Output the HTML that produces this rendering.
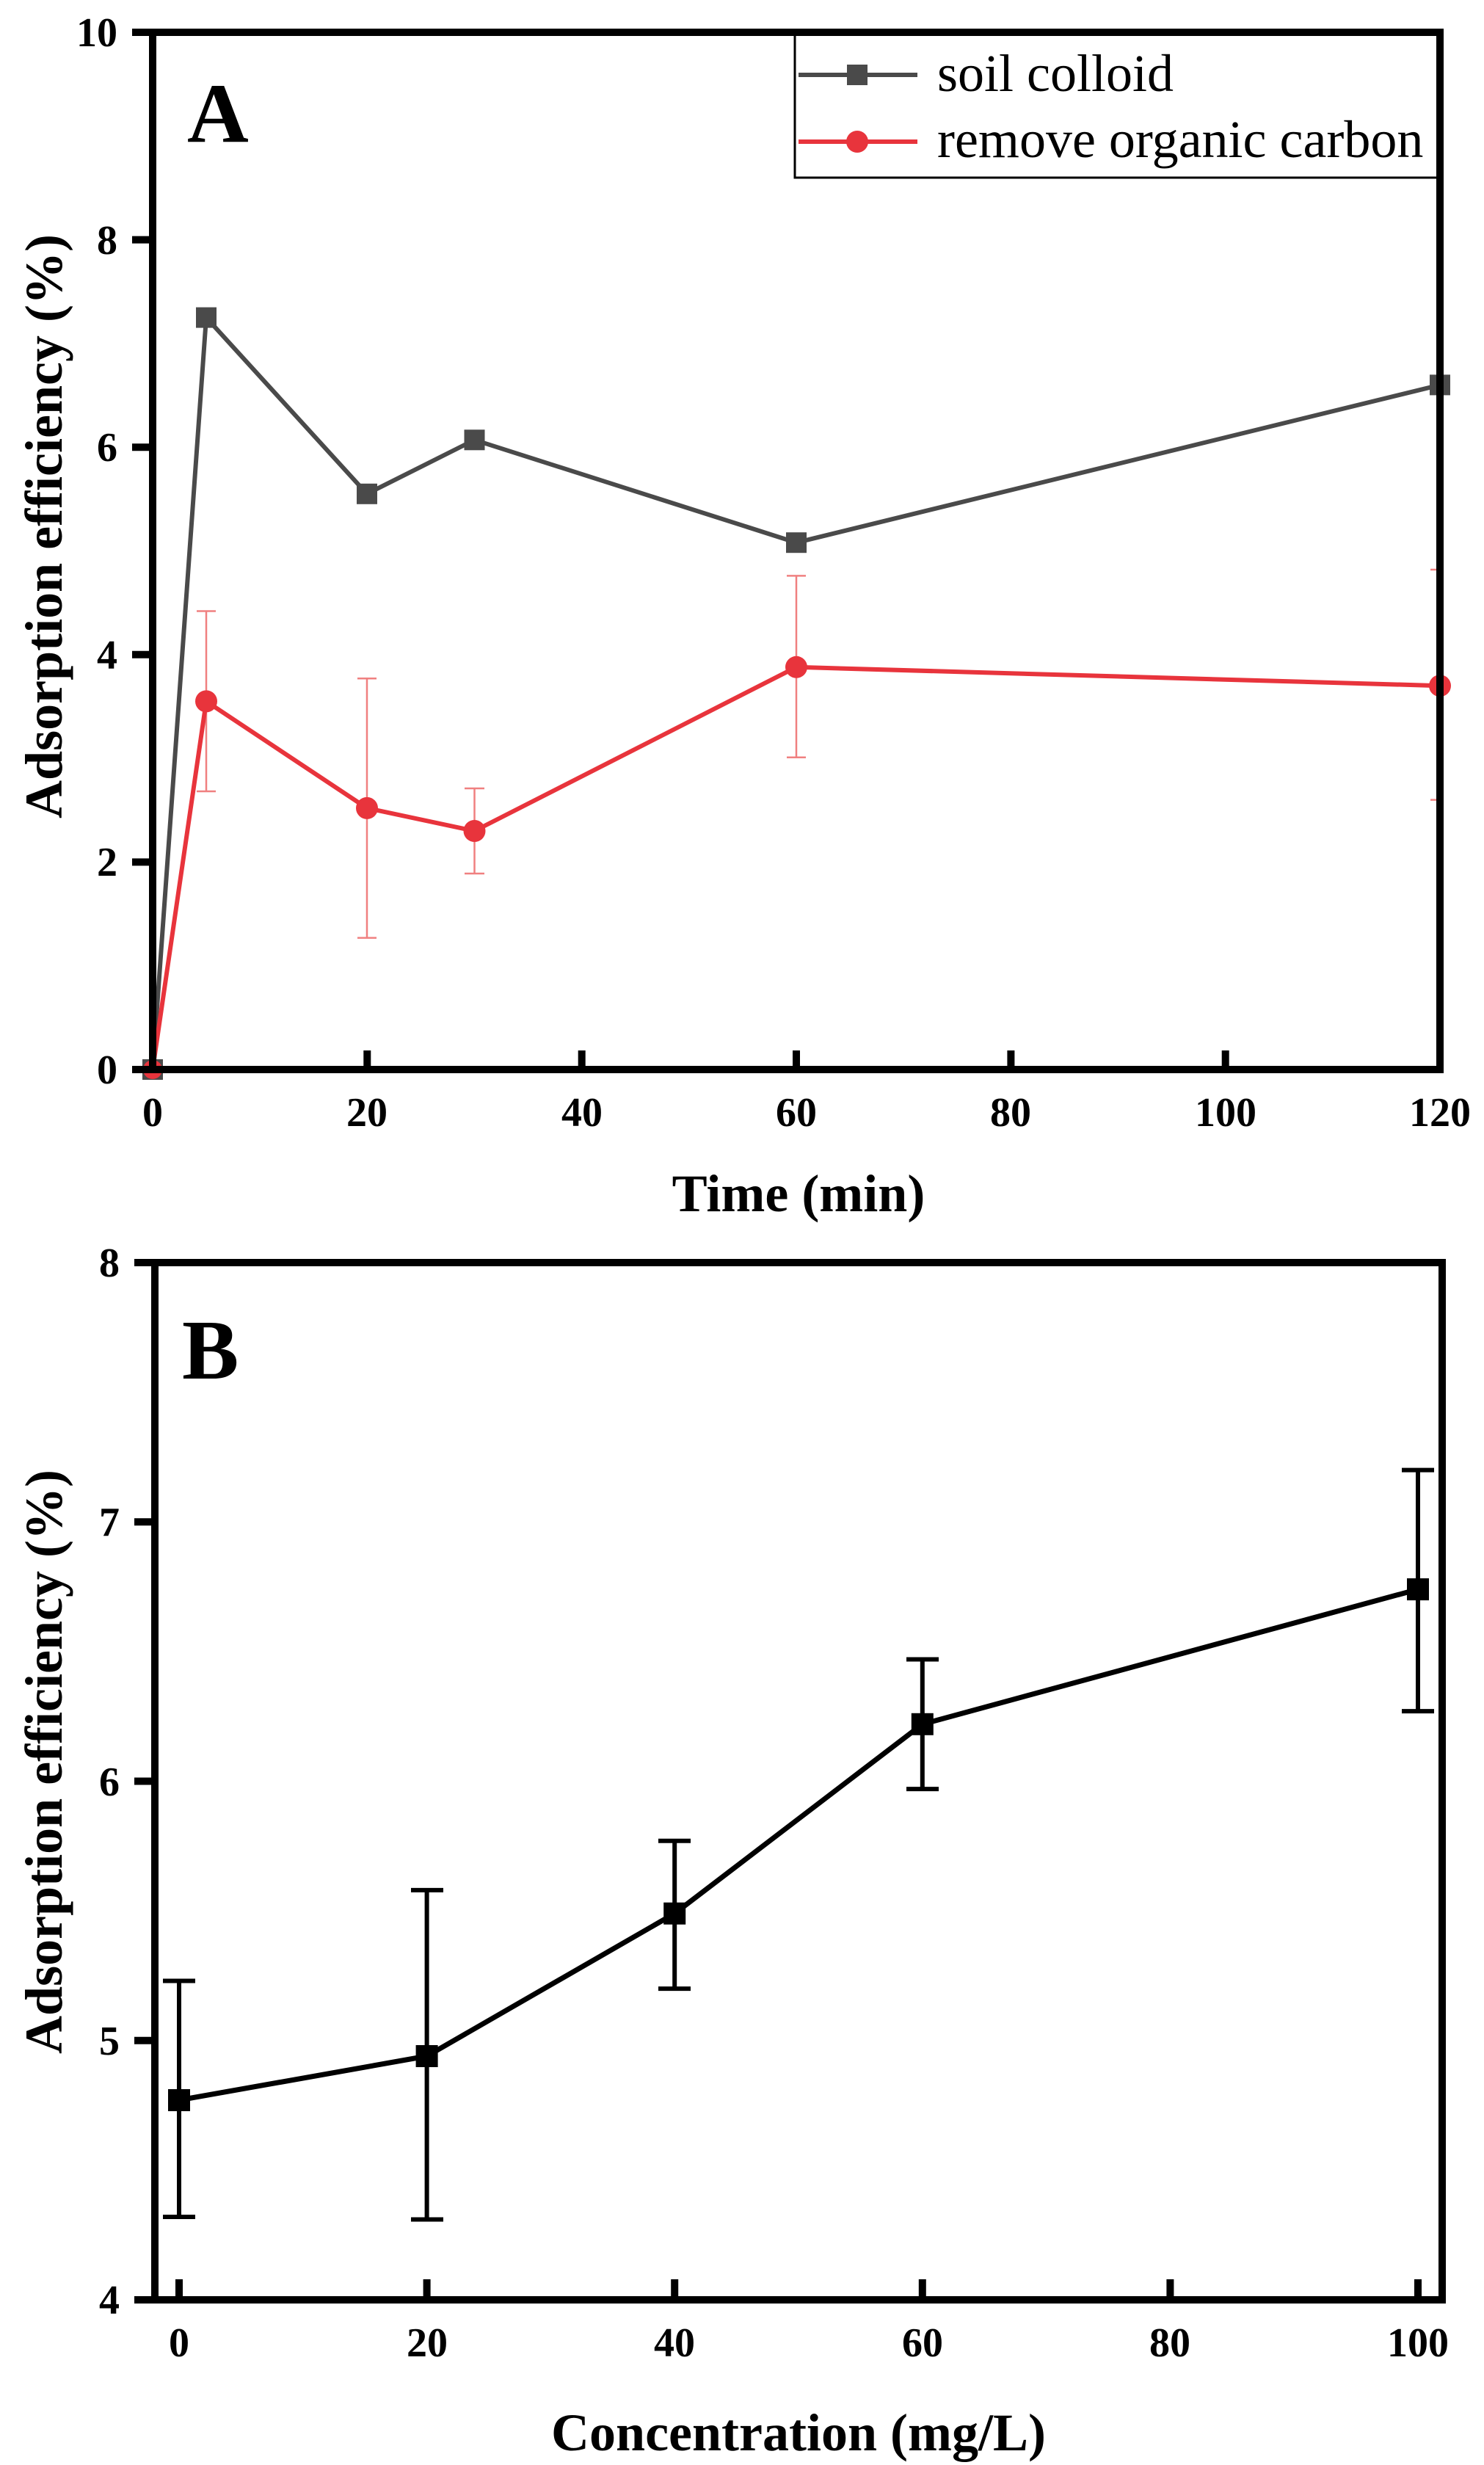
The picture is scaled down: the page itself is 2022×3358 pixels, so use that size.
<!DOCTYPE html>
<html><head><meta charset="utf-8"><style>html,body{margin:0;padding:0;background:#fff}svg{display:block}</style></head>
<body>
<svg width="2022" height="3358" viewBox="0 0 2022 3358" xmlns="http://www.w3.org/2000/svg" font-family="Liberation Serif, serif">
<rect width="2022" height="3358" fill="#fff"/>
<!-- Panel A -->
<g>
 <g stroke="#f08080" stroke-width="2.5" fill="none">
  <path d="M281 1078V832.5M268 1078h26M268 832.5h26"/>
  <path d="M500 1277.6V924.3M487 1277.6h26M487 924.3h26"/>
  <path d="M646.5 1190V1074M633 1190h27M633 1074h27"/>
  <path d="M1085 1031.7V784.4M1072 1031.7h26M1072 784.4h26"/>
  <path d="M1962 1089.6V776M1949 1089.6h13M1949 776h13"/>
 </g>
 <polyline points="208,1457 281,432.6 500,672.8 646.5,599.3 1085,739.2 1962,524.4" fill="none" stroke="#4a4a4a" stroke-width="6"/>
 <g fill="#4a4a4a">
  <rect x="194" y="1443" width="28" height="28"/><rect x="267" y="418.6" width="28" height="28"/><rect x="486" y="658.8" width="28" height="28"/><rect x="632.5" y="585.3" width="28" height="28"/><rect x="1071" y="725.2" width="28" height="28"/><rect x="1948" y="510.4" width="28" height="28"/>
 </g>
 <polyline points="208,1457 281,955.4 500,1100.9 646.5,1132 1085,908.8 1962,934.2" fill="none" stroke="#e8343c" stroke-width="6"/>
 <g fill="#e8343c">
  <circle cx="208" cy="1457" r="13"/><circle cx="281" cy="955.4" r="15"/><circle cx="500" cy="1100.9" r="15"/><circle cx="646.5" cy="1132" r="15"/><circle cx="1085" cy="908.8" r="15"/><circle cx="1962" cy="934.2" r="15"/>
 </g>
 <g stroke="#000" stroke-width="10">
  <path d="M180 1457h28M180 1174.4h28M180 891.8h28M180 609.2h28M180 326.6h28M180 44h28"/>
  <path d="M500.3 1457v-26M792.7 1457v-26M1085 1457v-26M1377.4 1457v-26M1669.7 1457v-26"/>
 </g>
 <g font-size="56" font-weight="bold" text-anchor="end">
  <text x="160" y="1476">0</text><text x="160" y="1193">2</text><text x="160" y="911">4</text><text x="160" y="628">6</text><text x="160" y="346">8</text><text x="160" y="63">10</text>
 </g>
 <g font-size="56" font-weight="bold" text-anchor="middle">
  <text x="208" y="1534">0</text><text x="500" y="1534">20</text><text x="793" y="1534">40</text><text x="1085" y="1534">60</text><text x="1377" y="1534">80</text><text x="1670" y="1534">100</text><text x="1962" y="1534">120</text>
 </g>
 <text x="1088" y="1650" font-size="72" font-weight="bold" text-anchor="middle">Time (min)</text>
 <text transform="translate(84 717) rotate(-90)" font-size="72" font-weight="bold" text-anchor="middle">Adsorption efficiency (%)</text>
 <text x="255" y="193" font-size="116" font-weight="bold">A</text>
 <rect x="1083" y="44" width="879" height="198" fill="#fff" stroke="#000" stroke-width="3"/>
 <rect x="208" y="44" width="1754" height="1413" fill="none" stroke="#000" stroke-width="10"/>
 <line x1="1088" y1="102" x2="1250" y2="102" stroke="#4a4a4a" stroke-width="6"/>
 <rect x="1154" y="88" width="28" height="28" fill="#4a4a4a"/>
 <line x1="1088" y1="193" x2="1250" y2="193" stroke="#e8343c" stroke-width="6"/>
 <circle cx="1168" cy="193" r="15" fill="#e8343c"/>
 <text x="1277" y="124" font-size="72">soil colloid</text>
 <text x="1277" y="214" font-size="72">remove organic carbon</text>
</g>
<!-- Panel B -->
<g>
 <g stroke="#000" stroke-width="6" fill="none">
  <path d="M244 3020V2698.5M222 3020h44M222 2698.5h44"/>
  <path d="M581.6 3023.5V2574.9M560 3023.5h44M560 2574.9h44"/>
  <path d="M919.2 2709.1V2507.7M897 2709.1h44M897 2507.7h44"/>
  <path d="M1256.8 2437.1V2260.5M1235 2437.1h44M1235 2260.5h44"/>
  <path d="M1932 2331.1V2002.6M1910 2331.1h44M1910 2002.6h44"/>
 </g>
 <polyline points="244,2861 581.6,2801 919.2,2606.7 1256.8,2348.8 1932,2165.1" fill="none" stroke="#000" stroke-width="7"/>
 <g fill="#000">
  <rect x="229" y="2846" width="30" height="30"/><rect x="566.6" y="2786" width="30" height="30"/><rect x="904.2" y="2591.7" width="30" height="30"/><rect x="1241.8" y="2333.8" width="30" height="30"/><rect x="1917" y="2150.1" width="30" height="30"/>
 </g>
 <rect x="211" y="1720" width="1754" height="1413" fill="none" stroke="#000" stroke-width="10"/>
 <g stroke="#000" stroke-width="10">
  <path d="M183 3133h28M183 2779.75h28M183 2426.5h28M183 2073.25h28M183 1720h28"/>
  <path d="M244 3133v-28M581.6 3133v-28M919.2 3133v-28M1256.8 3133v-28M1594.4 3133v-28M1932 3133v-28"/>
 </g>
 <g font-size="56" font-weight="bold" text-anchor="end">
  <text x="163" y="3152">4</text><text x="163" y="2799">5</text><text x="163" y="2446">6</text><text x="163" y="2092">7</text><text x="163" y="1739">8</text>
 </g>
 <g font-size="56" font-weight="bold" text-anchor="middle">
  <text x="244" y="3210">0</text><text x="582" y="3210">20</text><text x="919" y="3210">40</text><text x="1257" y="3210">60</text><text x="1594" y="3210">80</text><text x="1932" y="3210">100</text>
 </g>
 <text x="1088" y="3338" font-size="72" font-weight="bold" text-anchor="middle">Concentration (mg/L)</text>
 <text transform="translate(84 2400) rotate(-90)" font-size="72" font-weight="bold" text-anchor="middle">Adsorption efficiency (%)</text>
 <text x="248" y="1878" font-size="116" font-weight="bold">B</text>
</g>
</svg>
</body></html>
